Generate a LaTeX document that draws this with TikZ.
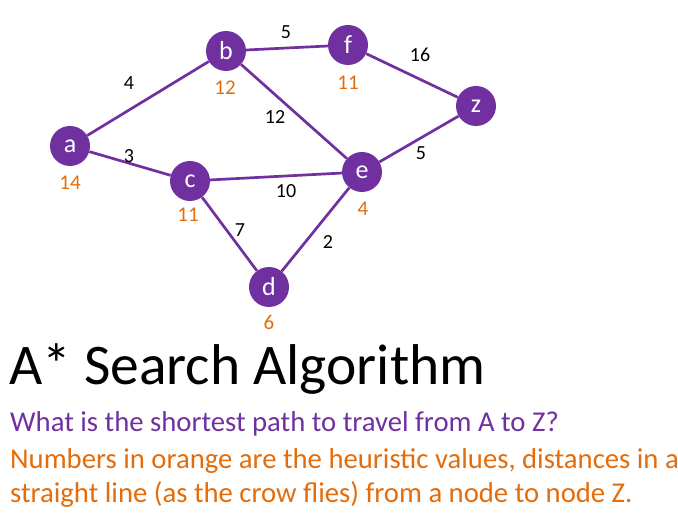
\documentclass[tikz,border=0pt]{standalone}
\usepackage{fontspec}
\setmainfont{Carlito}
\definecolor{vpurple}{HTML}{7030A0}
\definecolor{vorange}{HTML}{E46C0A}
\begin{document}
\begin{tikzpicture}[x=1pt,y=-1pt,
  vert/.style={circle,fill=vpurple,minimum size=40pt,inner sep=0pt,text=white,font=\fontsize{26}{30}\selectfont},
  edge/.style={draw=vpurple,line width=2.7pt},
  wlab/.style={font=\fontsize{20}{24}\selectfont,text=black},
  hlab/.style={font=\fontsize{21}{25}\selectfont,text=vorange}]
\useasboundingbox (0,0) rectangle (678,518);
\node[vert] (a) at (70,146) {a};
\node[vert] (b) at (226,51) {b};
\node[vert] (f) at (348,45) {f};
\node[vert] (z) at (476,106) {z};
\node[vert] (e) at (362,172) {e};
\node[vert] (c) at (190,181) {c};
\node[vert] (d) at (269,287) {d};
\draw[edge] (a) -- (b);
\draw[edge] (a) -- (c);
\draw[edge] (b) -- (f);
\draw[edge] (b) -- (e);
\draw[edge] (f) -- (z);
\draw[edge] (z) -- (e);
\draw[edge] (c) -- (e);
\draw[edge] (c) -- (d);
\draw[edge] (d) -- (e);
\node[wlab] (w1) at (286,32) {5};
\node[wlab] (w2) at (420,55) {16};
\node[wlab] (w3) at (129,83) {4};
\node[wlab] (w4) at (275,117) {12};
\node[wlab] (w5) at (129,156) {3};
\node[wlab] (w6) at (421,153) {5};
\node[wlab] (w7) at (286,191) {10};
\node[wlab] (w8) at (240,230) {7};
\node[wlab] (w9) at (328,242) {2};
\node[hlab] (ha) at (70,183) {14};
\node[hlab] (hb) at (225,88) {12};
\node[hlab] (hf) at (348,83) {11};
\node[hlab] (he) at (363,209) {4};
\node[hlab] (hc) at (188,215) {11};
\node[hlab] (hd) at (269,322) {6};
\node[anchor=base west,inner sep=0pt,font=\fontsize{57.5}{62}\selectfont] (title) at (9,385) {A* Search Algorithm};
\node[anchor=base west,inner sep=0pt,text=vpurple,font=\fontsize{28.7}{34}\selectfont] (q) at (10,432) {What is the shortest path to travel from A to Z?};
\node[anchor=base west,inner sep=0pt,text=vorange,font=\fontsize{28.7}{34}\selectfont] (n1) at (10,469) {Numbers in orange are the heuristic values, distances in a};
\node[anchor=base west,inner sep=0pt,text=vorange,font=\fontsize{28.7}{34}\selectfont] (n2) at (10,503) {straight line (as the crow flies) from a node to node Z.};
\end{tikzpicture}
\end{document}
